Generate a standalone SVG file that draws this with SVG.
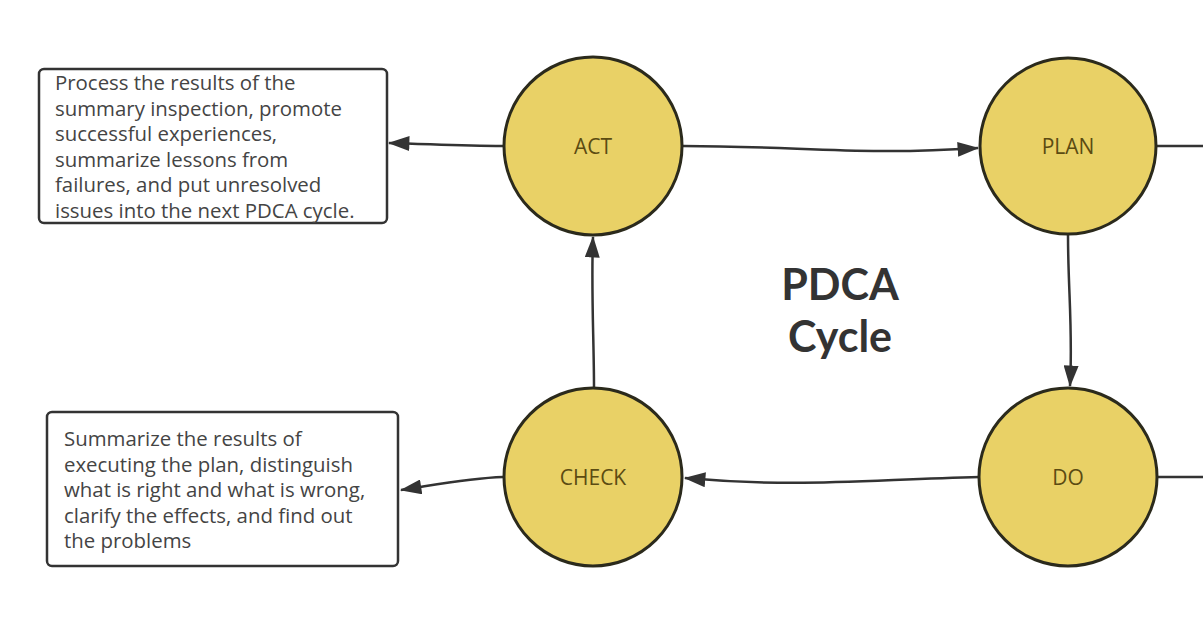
<svg xmlns="http://www.w3.org/2000/svg" width="1203" height="630" viewBox="0 0 1203 630">
<defs>
<style>
.node{fill:#e9d166;stroke:#2b2a1c;stroke-width:3}
.lbl{font-family:"Open Sans","Noto Sans",sans-serif;font-size:21px;fill:#5b4b12;text-anchor:middle}
.box{fill:#fff;stroke:#333;stroke-width:2.5}
.txt{font-family:"Open Sans","Noto Sans",sans-serif;font-size:20.4px;fill:#444}
.title{font-family:Lato,"Open Sans",sans-serif;font-size:43px;font-weight:bold;fill:#333;text-anchor:middle}
.conn{fill:none;stroke:#333;stroke-width:2.5}
</style>
<marker id="arrow" viewBox="0 0 20 14" refX="19" refY="7" markerWidth="22" markerHeight="15" markerUnits="userSpaceOnUse" orient="auto">
<path d="M0,0 L20,7 L0,14 z" fill="#333"/>
</marker>
</defs>
<rect width="1203" height="630" fill="#fff"/>
<g id="connectors">
<path class="conn" d="M683,146 C800,146 860,156 978,148" marker-end="url(#arrow)"/>
<path class="conn" d="M1068,235 C1068,290 1073,330 1070,386" marker-end="url(#arrow)"/>
<path class="conn" d="M980,477 C860,480 800,488 685,478" marker-end="url(#arrow)"/>
<path class="conn" d="M594,388 C594,340 591,290 593,237" marker-end="url(#arrow)"/>
<path class="conn" d="M503,146 C460,146 430,144 389,143" marker-end="url(#arrow)"/>
<path class="conn" d="M503,477 C470,478 440,484 401,490" marker-end="url(#arrow)"/>
<path class="conn" d="M1157,146 C1175,146 1190,146 1203,146"/>
<path class="conn" d="M1157,477 C1175,477 1190,477 1203,477"/>
</g>
<g id="node-act">
<circle class="node" cx="593" cy="146" r="89"/>
<text class="lbl" x="593" y="154">ACT</text>
</g>
<g id="node-plan">
<circle class="node" cx="1068" cy="146" r="88"/>
<text class="lbl" x="1068" y="154">PLAN</text>
</g>
<g id="node-do">
<circle class="node" cx="1068" cy="477" r="89"/>
<text class="lbl" x="1068" y="485">DO</text>
</g>
<g id="node-check">
<circle class="node" cx="593" cy="477" r="89"/>
<text class="lbl" x="593" y="485">CHECK</text>
</g>
<g id="node-act-note">
<rect class="box" x="39" y="69" width="348" height="154" rx="5"/>
<text class="txt">
<tspan x="55" y="90">Process the results of the</tspan>
<tspan x="55" y="115.5">summary inspection, promote</tspan>
<tspan x="55" y="141">successful experiences,</tspan>
<tspan x="55" y="166.5">summarize lessons from</tspan>
<tspan x="55" y="192">failures, and put unresolved</tspan>
<tspan x="55" y="217.5">issues into the next PDCA cycle.</tspan>
</text>
</g>
<g id="node-check-note">
<rect class="box" x="47" y="412" width="351" height="154" rx="5"/>
<text class="txt">
<tspan x="64" y="446">Summarize the results of</tspan>
<tspan x="64" y="471.5">executing the plan, distinguish</tspan>
<tspan x="64" y="497">what is right and what is wrong,</tspan>
<tspan x="64" y="522.5">clarify the effects, and find out</tspan>
<tspan x="64" y="548">the problems</tspan>
</text>
</g>
<g id="title">
<text class="title"><tspan x="840" y="300">PDCA</tspan><tspan x="840" y="352">Cycle</tspan></text>
</g>
</svg>
